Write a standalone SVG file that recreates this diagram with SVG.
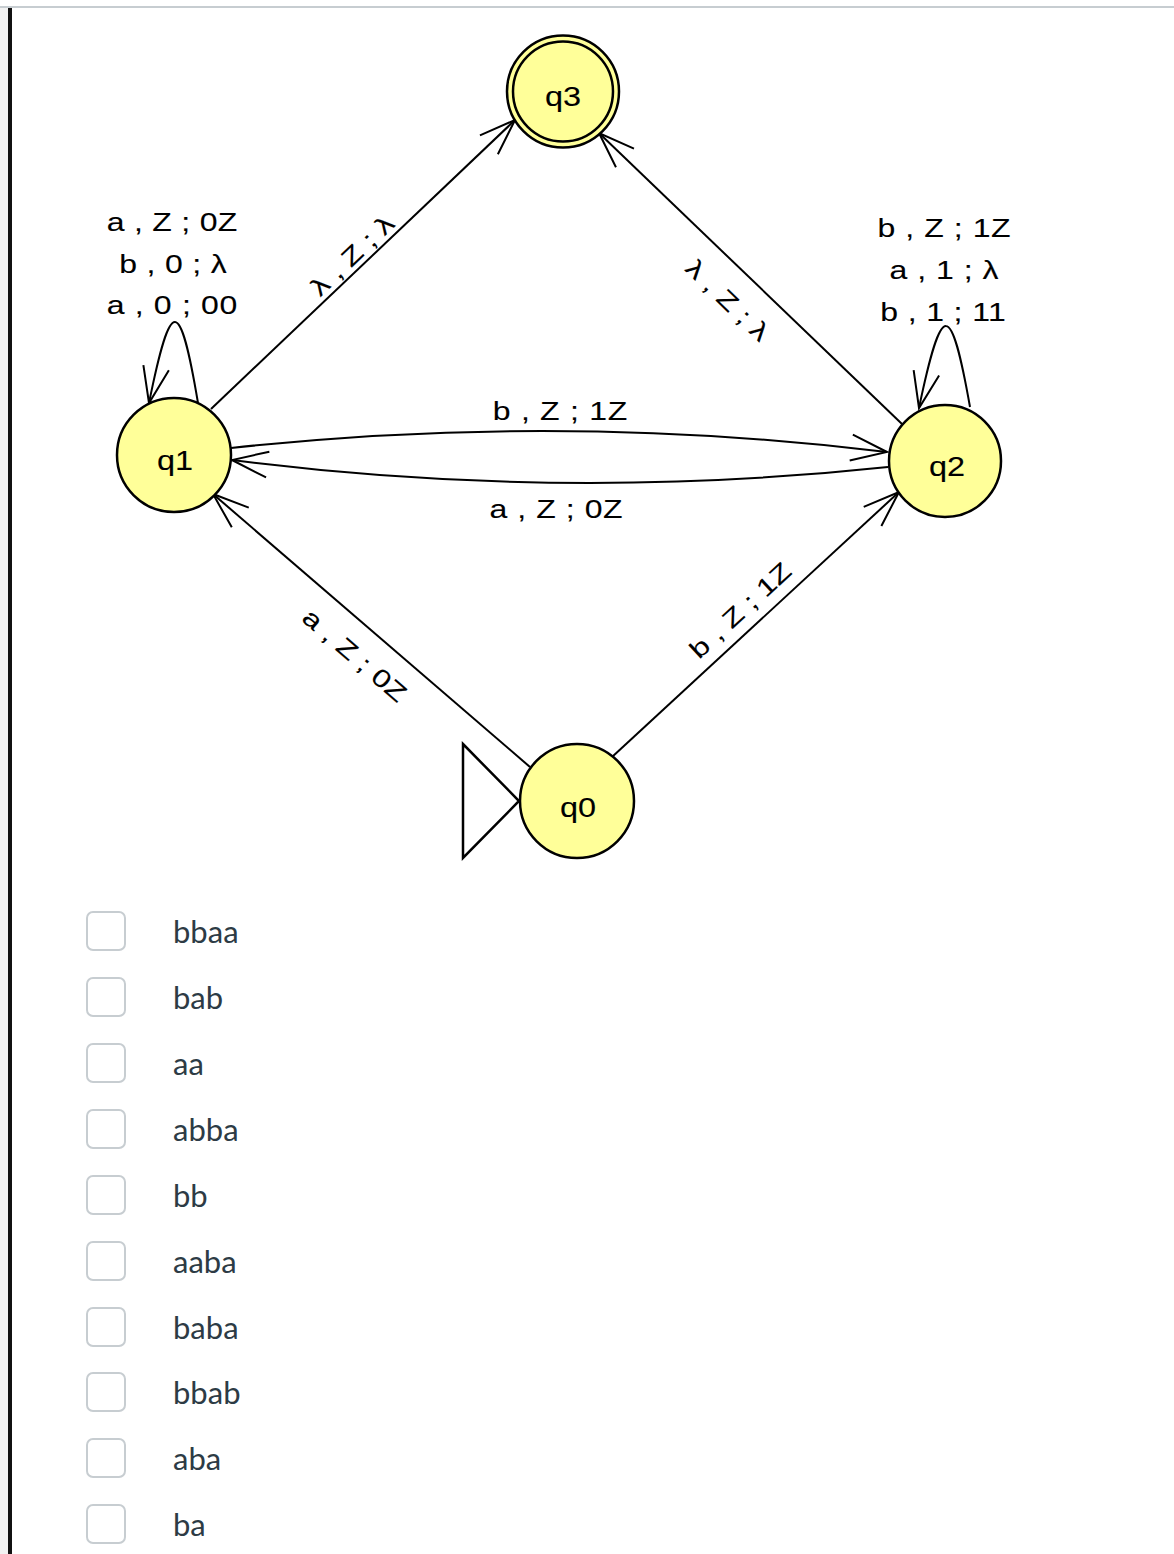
<svg xmlns="http://www.w3.org/2000/svg" width="1174" height="1554" viewBox="0 0 1174 1554">
<style>
.st{fill:#ffff99;stroke:#000;stroke-width:2.5}
.e{fill:none;stroke:#000;stroke-width:2}
.lb{font-family:"Liberation Sans",Arial,sans-serif;font-size:25px;fill:#000;stroke:#000;stroke-width:0.1;text-anchor:middle}
.sl{font-family:"Liberation Sans",Arial,sans-serif;font-size:27px;fill:#000;stroke:#000;stroke-width:0.1;text-anchor:middle}
.ck{fill:#fff;stroke:#c7cdd1;stroke-width:2}
.ct{font-family:Lato,"Liberation Sans",sans-serif;font-size:31px;fill:#2d3b45}
</style>
<defs>
<marker id="ah" markerUnits="userSpaceOnUse" orient="auto" refX="0" refY="0" markerWidth="44" markerHeight="32" viewBox="-40 -16 44 32" overflow="visible">
<path d="M-36,-13 L0,0 L-36,13" fill="none" stroke="#000" stroke-width="2"/>
</marker>
</defs>
<rect x="0" y="0" width="1174" height="1554" fill="#fff"/>
<rect x="0" y="8" width="8" height="1546" fill="#f2f2f2"/>
<rect x="0" y="6" width="1174" height="2" fill="#c7cdd1"/>
<rect x="8" y="8" width="4" height="1546" fill="#111"/>

<g id="connectors">
<path class="e" marker-end="url(#ah)" d="M211,409 L515,120"/>
<path class="e" marker-end="url(#ah)" d="M902,424 L599,133"/>
<path class="e" marker-end="url(#ah)" d="M530,767 L213,494"/>
<path class="e" marker-end="url(#ah)" d="M612,757 L899,492"/>
<path class="e" marker-end="url(#ah)" d="M231,448 Q560,412 887,452"/>
<path class="e" marker-end="url(#ah)" d="M888,467 Q560,502 232,460"/>
<path class="e" marker-end="url(#ah)" d="M198,403 C180,296 171,294 149,403"/>
<path class="e" marker-end="url(#ah)" d="M970,407 C951,300 942,298 919,408"/>
<g class="lb">
<text transform="translate(352,255) rotate(-43.5) scale(1.28,1)" y="9">λ , Z ; λ</text>
<text transform="translate(728,300) rotate(44) scale(1.28,1)" y="9">λ , Z ; λ</text>
<text transform="translate(355,655) rotate(40.7) scale(1.28,1)" y="9">a , Z ; 0Z</text>
<text transform="translate(740,610) rotate(-42.6) scale(1.28,1)" y="9">b , Z ; 1Z</text>
<text transform="translate(560,420) scale(1.28,1)" textLength="105" lengthAdjust="spacing">b , Z ; 1Z</text>
<text transform="translate(556,518) scale(1.28,1)" textLength="104" lengthAdjust="spacing">a , Z ; 0Z</text>
<text transform="translate(172,231) scale(1.28,1)" textLength="102" lengthAdjust="spacing">a , Z ; 0Z</text>
<text transform="translate(173,273) scale(1.28,1)" textLength="84" lengthAdjust="spacing">b , 0 ; λ</text>
<text transform="translate(172,314) scale(1.28,1)" textLength="102" lengthAdjust="spacing">a , 0 ; 00</text>
<text transform="translate(944,237) scale(1.28,1)" textLength="104" lengthAdjust="spacing">b , Z ; 1Z</text>
<text transform="translate(944,279) scale(1.28,1)" textLength="85" lengthAdjust="spacing">a , 1 ; λ</text>
<text transform="translate(943,321) scale(1.28,1)" textLength="98" lengthAdjust="spacing">b , 1 ; 11</text>
</g>
</g>

<g id="q3">
<circle class="st" cx="563" cy="91.5" r="56"/>
<circle cx="563" cy="91.5" r="50" fill="none" stroke="#000" stroke-width="2.5"/>
<text class="sl" transform="translate(563,106) scale(1.2,1)">q3</text>
</g>
<g id="q1">
<circle class="st" cx="174" cy="455" r="57"/>
<text class="sl" transform="translate(175,470) scale(1.2,1)">q1</text>
</g>
<g id="q2">
<circle class="st" cx="945" cy="461" r="56"/>
<text class="sl" transform="translate(947,476) scale(1.2,1)">q2</text>
</g>
<g id="q0">
<path d="M463,744 L519,801 L463,858 Z" fill="#fff" stroke="#000" stroke-width="2.5"/>
<circle class="st" cx="577" cy="801" r="57"/>
<text class="sl" transform="translate(578,817) scale(1.2,1)">q0</text>
</g>

<g id="options">
<rect class="ck" x="87" y="912" width="38" height="38" rx="6"/><text class="ct" x="173" y="943">bbaa</text>
<rect class="ck" x="87" y="978" width="38" height="38" rx="6"/><text class="ct" x="173" y="1009">bab</text>
<rect class="ck" x="87" y="1044" width="38" height="38" rx="6"/><text class="ct" x="173" y="1075">aa</text>
<rect class="ck" x="87" y="1110" width="38" height="38" rx="6"/><text class="ct" x="173" y="1141">abba</text>
<rect class="ck" x="87" y="1176" width="38" height="38" rx="6"/><text class="ct" x="173" y="1207">bb</text>
<rect class="ck" x="87" y="1242" width="38" height="38" rx="6"/><text class="ct" x="173" y="1273">aaba</text>
<rect class="ck" x="87" y="1308" width="38" height="38" rx="6"/><text class="ct" x="173" y="1339">baba</text>
<rect class="ck" x="87" y="1373" width="38" height="38" rx="6"/><text class="ct" x="173" y="1404">bbab</text>
<rect class="ck" x="87" y="1439" width="38" height="38" rx="6"/><text class="ct" x="173" y="1470">aba</text>
<rect class="ck" x="87" y="1505" width="38" height="38" rx="6"/><text class="ct" x="173" y="1536">ba</text>
</g>
</svg>
